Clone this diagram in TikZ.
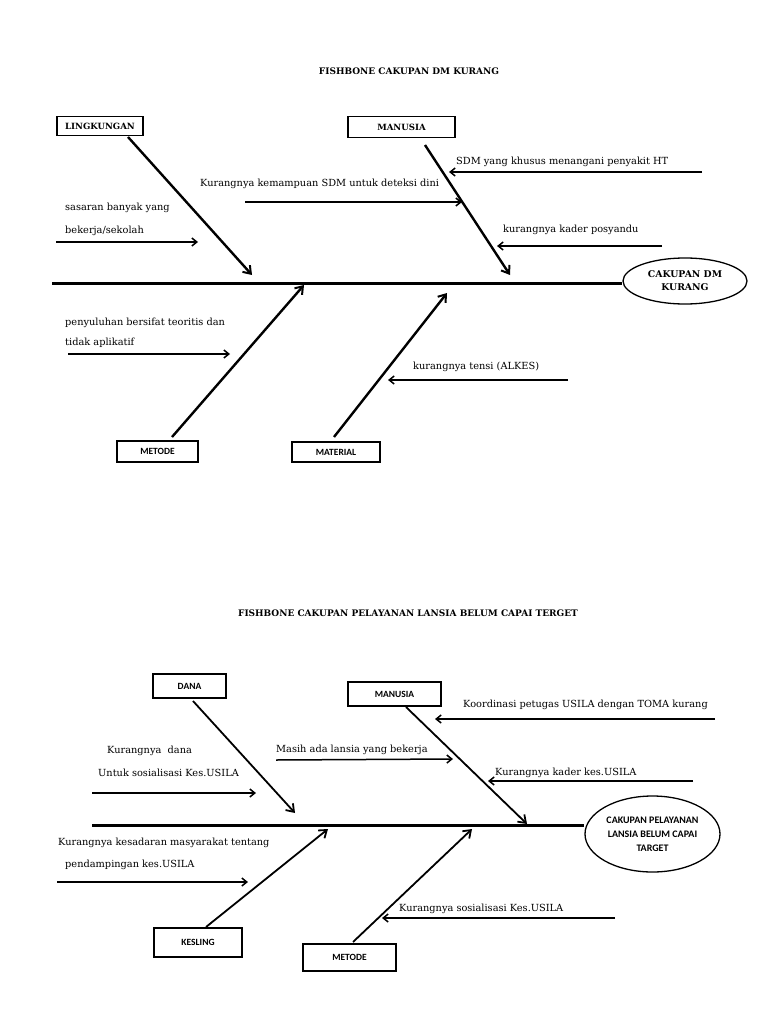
\documentclass[tikz,border=0pt]{standalone}
\usepackage{fontspec}
\setmainfont{DejaVu Serif}
\newfontfamily\boxsans{Carlito}
\usetikzlibrary{arrows.meta,shapes.geometric}
\tikzset{
  bone/.style={line width=2.4pt,-{Straight Barb[length=7pt,width=10pt,line width=2pt]}},
  thinbone/.style={line width=1.8pt,-{Straight Barb[length=7pt,width=10pt,line width=1.8pt]}},
  spine/.style={line width=3pt},
  sub/.style={line width=1.5pt,-{Straight Barb[length=5pt,width=8pt,line width=1.5pt]}},
  lbl/.style={anchor=west,inner sep=0pt,font=\fontsize{9.8}{11}\selectfont},
  slabbox/.style={draw,line width=1.3pt,minimum height=19pt,inner sep=0pt,font=\bfseries\fontsize{8.6}{10}\selectfont},
  sansbox/.style={draw,line width=1.3pt,inner sep=0pt,font=\boxsans\bfseries\fontsize{9.5}{11}\selectfont},
  effect/.style={draw,ellipse,line width=1.3pt,inner sep=0pt,align=center},
  ttl/.style={inner sep=0pt,font=\bfseries\fontsize{9}{10}\selectfont}
}
\begin{document}
\begin{tikzpicture}[x=1pt,y=-1pt]
\useasboundingbox[fill=white] (0,0) rectangle (768,1024);

% ================= TOP DIAGRAM =================
\node[ttl] (t1) at (409,71) {FISHBONE CAKUPAN DM KURANG};

\node[effect,minimum width=124pt,minimum height=46pt,font=\bfseries\fontsize{9.3}{13}\selectfont] (e1) at (685,281) {CAKUPAN DM\\KURANG};
\coordinate (s1) at (52,283);
\draw[spine] (s1) -- (e1.west |- s1);

\node[slabbox,minimum width=86pt] (ling) at (100,126) {LINGKUNGAN};
\node[slabbox,minimum width=107pt,minimum height=21pt] (man1) at (401.5,127) {MANUSIA};
\node[sansbox,minimum width=81pt,minimum height=21pt] (met1) at (157.5,451.5) {METODE};
\node[sansbox,minimum width=88pt,minimum height=20pt] (mat1) at (336,452) {MATERIAL};

\coordinate (ling0) at (128,137);
\coordinate (lingT) at (252,275);
\coordinate (man0) at (425,145);
\coordinate (manT) at (510,275);
\coordinate (met0) at (172,437);
\coordinate (metT) at (304,285);
\coordinate (mat0) at (334,437);
\coordinate (matT) at (447,293);
\draw[bone] (ling0) -- (lingT);
\draw[bone] (man0) -- (manT);
\draw[bone] (met0) -- (metT);
\draw[bone] (mat0) -- (matT);

% sub causes
\node[lbl] (a1) at (456,162) {SDM yang khusus menangani penyakit HT};
\coordinate (a1s) at (702,172); \coordinate (a1e) at (449,172);
\draw[sub] (a1s) -- (a1e);

\node[lbl] (a2) at (200,184) {Kurangnya kemampuan SDM untuk deteksi dini};
\coordinate (a2s) at (245,202); \coordinate (a2e) at (462,202);
\draw[sub] (a2s) -- (a2e);

\node[lbl] (a3) at (503,230) {kurangnya kader posyandu};
\coordinate (a3s) at (662,246); \coordinate (a3e) at (497,246);
\draw[sub] (a3s) -- (a3e);

\node[lbl] (a4) at (65,208) {sasaran banyak yang};
\node[lbl] (a4b) at (65,231) {bekerja/sekolah};
\coordinate (a4s) at (56,242); \coordinate (a4e) at (198,242);
\draw[sub] (a4s) -- (a4e);

\node[lbl] (a5) at (65,323) {penyuluhan bersifat teoritis dan};
\node[lbl] (a5b) at (65,343) {tidak aplikatif};
\coordinate (a5s) at (68,354); \coordinate (a5e) at (230,354);
\draw[sub] (a5s) -- (a5e);

\node[lbl] (a6) at (413,367) {kurangnya tensi (ALKES)};
\coordinate (a6s) at (568,380); \coordinate (a6e) at (388,380);
\draw[sub] (a6s) -- (a6e);

% ================= BOTTOM DIAGRAM =================
\node[ttl] (t2) at (408,613) {FISHBONE CAKUPAN PELAYANAN LANSIA BELUM CAPAI TERGET};

\node[effect,minimum width=135pt,minimum height=76pt,font=\boxsans\bfseries\fontsize{10}{14}\selectfont] (e2) at (652.5,834) {CAKUPAN PELAYANAN\\LANSIA BELUM CAPAI\\TARGET};
\coordinate (s2) at (92,825);
\draw[spine] (s2) -- (e2.west |- s2);

\node[sansbox,minimum width=73pt,minimum height=24pt] (dana) at (189.5,686) {DANA};
\node[sansbox,minimum width=93pt,minimum height=24pt] (man2) at (394.5,694) {MANUSIA};
\node[sansbox,minimum width=88pt,minimum height=29pt] (kes) at (198,942.5) {KESLING};
\node[sansbox,minimum width=93pt,minimum height=27pt] (met2) at (349.5,957.5) {METODE};

\coordinate (dana0) at (193,701);
\coordinate (danaT) at (295,813);
\coordinate (man20) at (406,707);
\coordinate (man2T) at (527,824);
\coordinate (kes0) at (206,927);
\coordinate (kesT) at (328,829);
\coordinate (met20) at (353,942);
\coordinate (met2T) at (472,829);
\draw[thinbone] (dana0) -- (danaT);
\draw[thinbone] (man20) -- (man2T);
\draw[thinbone] (kes0) -- (kesT);
\draw[thinbone] (met20) -- (met2T);

\node[lbl] (b1) at (463,705) {Koordinasi petugas USILA dengan TOMA kurang};
\coordinate (b1s) at (715,719); \coordinate (b1e) at (435,719);
\draw[sub] (b1s) -- (b1e);

\node[lbl] (b2) at (276,750) {Masih ada lansia yang bekerja};
\coordinate (b2s) at (276,760); \coordinate (b2e) at (453,759);
\draw[sub] (b2s) -- (b2e);

\node[lbl] (b3) at (495,773) {Kurangnya kader kes.USILA};
\coordinate (b3s) at (693,781); \coordinate (b3e) at (488,781);
\draw[sub] (b3s) -- (b3e);

\node[lbl] (b4) at (107,751) {Kurangnya\ \ dana};
\node[lbl] (b4b) at (98,773) {Untuk sosialisasi Kes.USILA};
\coordinate (b4s) at (92,793); \coordinate (b4e) at (256,793);
\draw[sub] (b4s) -- (b4e);

\node[lbl] (b5) at (58,843) {Kurangnya kesadaran masyarakat tentang};
\node[lbl] (b5b) at (65,865) {pendampingan kes.USILA};
\coordinate (b5s) at (57,882); \coordinate (b5e) at (248,882);
\draw[sub] (b5s) -- (b5e);

\node[lbl] (b6) at (399,909) {Kurangnya sosialisasi Kes.USILA};
\coordinate (b6s) at (615,918); \coordinate (b6e) at (382,918);
\draw[sub] (b6s) -- (b6e);
\end{tikzpicture}
\end{document}
